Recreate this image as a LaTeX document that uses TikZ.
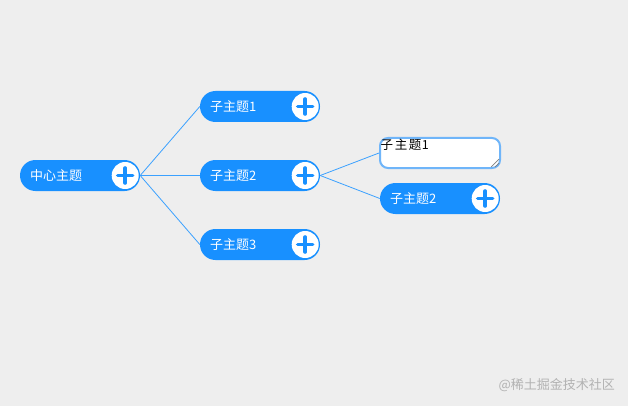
\documentclass[tikz,border=0pt]{standalone}
\usepackage{fontspec, xcolor}
\usetikzlibrary{arrows.meta}
\newfontfamily\cjk{Noto Sans CJK SC}
\definecolor{topicblue}{HTML}{1890FF}
\definecolor{pagegray}{HTML}{EEEEEE}
\definecolor{focusblue}{HTML}{6FB5F9}
\tikzset{
    topic/.style={fill=topicblue, text=white, rounded corners=15.5pt, text width=100pt,
        inner xsep=10pt, inner ysep=0pt, minimum height=31pt, align=left,
        font=\cjk\fontsize{13}{15}\selectfont},
    plusbtn/.style={circle, fill=white, minimum size=27pt, inner sep=0pt, path picture={
        \draw [topicblue, line width=3.6pt, line cap=round]
            ([xshift=-7.5pt]path picture bounding box.center) -- ([xshift=7.5pt]path picture bounding box.center);
        \draw [topicblue, line width=3.6pt, line cap=round]
            ([yshift=-7.5pt]path picture bounding box.center) -- ([yshift=7.5pt]path picture bounding box.center);
    }},
    link/.style={topicblue!85, line width=0.8pt}
}

\begin{document}
\begin{tikzpicture}[x=1pt, y=-1pt]
    \fill [pagegray] (0,0) rectangle (628,406);
    \useasboundingbox (0,0) rectangle (628,406);

    \node [topic] (root) at (80,175.5) {中心主题};
    \node [topic] (sub1) at (260,106.5) {子主题1};
    \node [topic] (sub2) at (260,175.5) {子主题2};
    \node [topic] (sub3) at (260,244.5) {子主题3};
    \node [topic] (leaf2) at (440,198.5) {子主题2};

    % the one being edited
    \node [draw=focusblue, line width=2pt, fill=white, rounded corners=8pt, minimum width=120pt,
        minimum height=30pt, inner sep=0pt] (leaf1) at (440,153) {};
    \node [anchor=north west, inner sep=0pt, text=black, font=\cjk\fontsize{12.5}{15}\selectfont] (leaf1text)
        at (380.5,138.5) {子\kern1.6pt 主\kern1.6pt 题\kern0.5pt 1};
    \coordinate (gripa) at (491,167);
    \coordinate (gripb) at (499,159);
    \coordinate (gripc) at (495,167);
    \coordinate (gripd) at (499,163);
    \draw [gray, line width=0.7pt] (gripa) -- (gripb);
    \draw [gray, line width=0.7pt] (gripc) -- (gripd);

    \foreach \n in {root, sub1, sub2, sub3, leaf2} {
        \node [plusbtn] (\n plus) at ([xshift=-15pt]\n.east) {};
    }

    \draw [link] (root.east) -- (sub1.west);
    \draw [link] (root.east) -- (sub2.west);
    \draw [link] (root.east) -- (sub3.west);
    \draw [link] (sub2.east) -- (leaf1.west);
    \draw [link] (sub2.east) -- (leaf2.west);

    \node [anchor=east, inner sep=0pt, text=black!30, font=\cjk\fontsize{13}{15}\selectfont] (mark)
        at (615,385.5) {@稀土掘金技术社区};
\end{tikzpicture}
\end{document}
